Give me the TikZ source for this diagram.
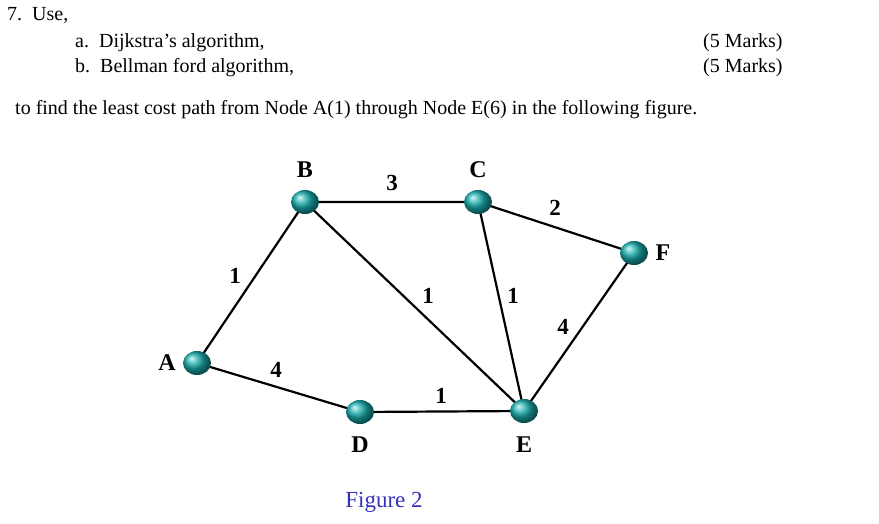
\documentclass[tikz,border=0pt]{standalone}
\usepackage{fontspec}
\setmainfont{Liberation Serif}
\usetikzlibrary{shapes.geometric}
\begin{document}
\begin{tikzpicture}[x=1pt,y=-1pt,
  v/.style={ellipse,minimum width=28pt,minimum height=24pt,inner sep=0pt,ball color=teal!70!cyan!90!white,draw=none},
  vl/.style={font=\fontsize{24}{26}\selectfont\bfseries},
  el/.style={font=\fontsize{23}{26}\selectfont\bfseries},
  e/.style={line width=2.2pt},
  txt/.style={font=\fontsize{20}{22}\selectfont,anchor=base west,inner sep=0pt}]
\useasboundingbox (0,0) rectangle (879,524);
\node[txt] (t1) at (7,21) {7.\ \ Use,};
\node[txt] (t2) at (75,48) {a.\ \ Dijkstra’s algorithm,};
\node[txt] (t3) at (75,73) {b.\ \ Bellman ford algorithm,};
\node[txt] (t4) at (703,48) {(5 Marks)};
\node[txt] (t5) at (703,73) {(5 Marks)};
\node[txt] (t6) at (15,115) {to find the least cost path from Node A(1) through Node E(6) in the following figure.};
\coordinate (A) at (197,363);
\coordinate (B) at (305,202);
\coordinate (C) at (478,202);
\coordinate (F) at (634,253);
\coordinate (D) at (360,412);
\coordinate (E) at (524,411);
\draw[e] (A)--(B) (B)--(C) (C)--(F) (B)--(E) (C)--(E) (F)--(E) (A)--(D) (D)--(E);
\foreach \n in {A,B,C,D,E,F} \node[v] (n\n) at (\n) {};
\node[vl] (lA) at (167,363) {A};
\node[vl] (lB) at (305,170) {B};
\node[vl] (lC) at (478,170) {C};
\node[vl] (lF) at (663,253) {F};
\node[vl] (lD) at (360,445) {D};
\node[vl] (lE) at (524,445) {E};
\node[el] (w1) at (235,276) {1};
\node[el] (w2) at (392,183) {3};
\node[el] (w3) at (555,208) {2};
\node[el] (w4) at (428,296) {1};
\node[el] (w5) at (513,296) {1};
\node[el] (w6) at (563,327) {4};
\node[el] (w7) at (276,370) {4};
\node[el] (w8) at (441,396) {1};
\node[font=\fontsize{23}{26}\selectfont,text=blue!65!black!80!white] (fig) at (384,502) {Figure 2};
\end{tikzpicture}
\end{document}
